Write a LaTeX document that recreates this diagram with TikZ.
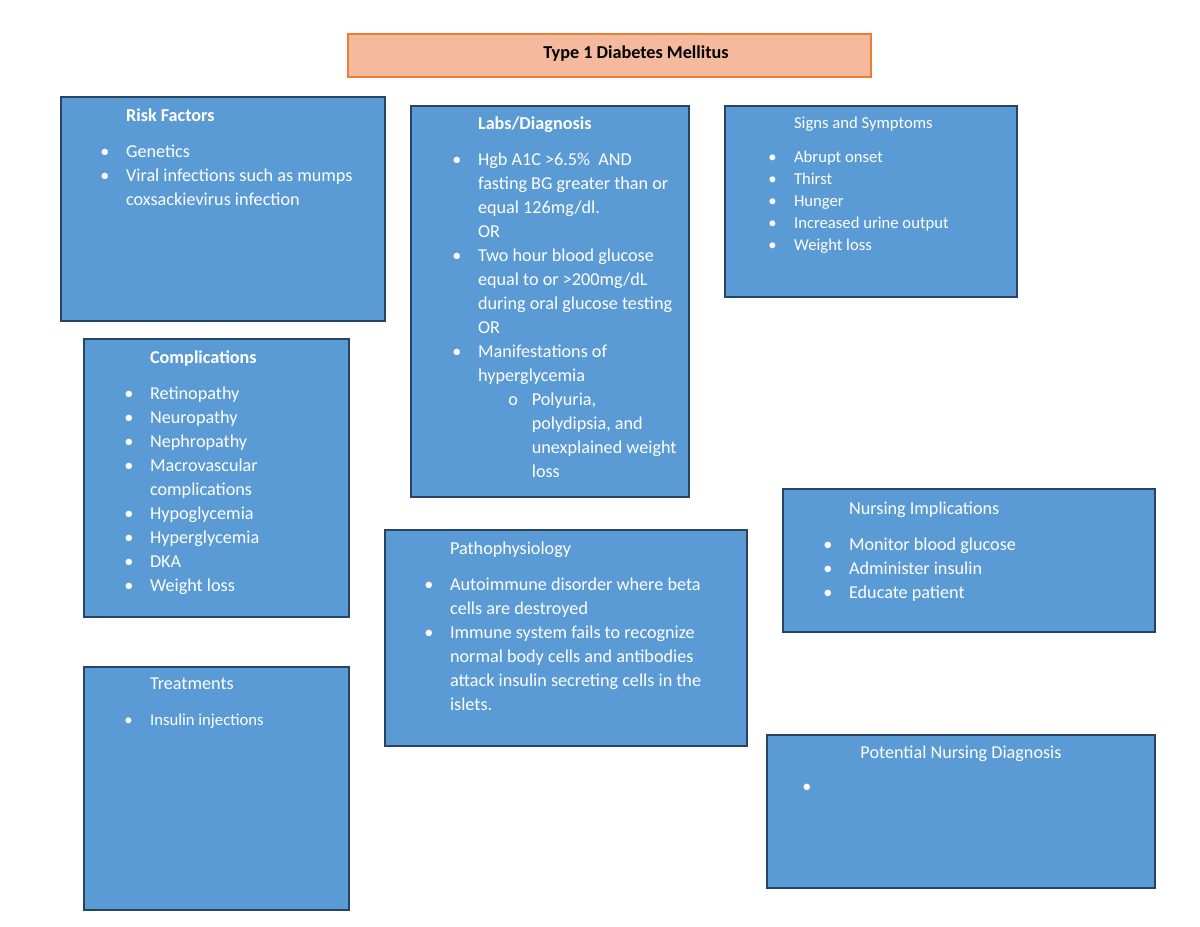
\documentclass[tikz,border=0pt]{standalone}
\usepackage{fontspec}
\setmainfont{Carlito}
\usetikzlibrary{fit}
\definecolor{boxblue}{RGB}{91,155,213}
\definecolor{boxline}{RGB}{40,68,98}
\definecolor{titlefill}{RGB}{245,185,158}
\definecolor{titleline}{RGB}{237,125,49}
\newlength\bulw
\setlength\bulw{17pt}
\newcommand\bul{\makebox[\bulw][l]{\textbullet}}
\newcommand\nobul{\hspace*{\bulw}}
\newcommand\subbul{\hspace*{\bulw}\hspace*{20pt}\makebox[15.5pt][l]{o}}
\newcommand\nosub{\hspace*{\bulw}\hspace*{35.5pt}}

\begin{document}
\begin{tikzpicture}[x=0.66pt,y=-0.66pt,
  every node/.style={inner sep=0pt},
  card/.style={draw=boxline,fill=boxblue,line width=1.3pt},
  list/.style={anchor=north west,align=left,text=white,font=\fontsize{12}{15.84}\selectfont},
  small/.style={anchor=north west,align=left,text=white,font=\fontsize{11}{14.5}\selectfont}]
  \useasboundingbox (0,0) rectangle (1200,927);

  % title bar
  \node[draw=titleline,fill=titlefill,line width=1pt,fit={(348,34) (871,77)}] (title) {};
  \node[font=\fontsize{12}{14}\selectfont\bfseries] (titletxt) at (636,54) {Type 1 Diabetes Mellitus};

  % boxes
  \node[card,fit={(61,97) (385,321)}] (risk) {};
  \node[card,fit={(411,106) (689,497)}] (labs) {};
  \node[card,fit={(725,106) (1017,297)}] (signs) {};
  \node[card,fit={(84,339) (349,617)}] (comp) {};
  \node[card,fit={(385,530) (747,746)}] (patho) {};
  \node[card,fit={(783,489) (1155,632)}] (nurs) {};
  \node[card,fit={(84,667) (349,910)}] (treat) {};
  \node[card,fit={(767,735) (1155,888)}] (potdx) {};

  % texts
  \node[list] (risktxt) at (100,108) {\nobul\textbf{Risk Factors}\\[7.9pt]
    \bul Genetics\\
    \bul Viral infections such as mumps\\
    \nobul coxsackievirus infection};
  \node[list] (labstxt) at (452,116) {\nobul\textbf{Labs/Diagnosis}\\[7.9pt]
    \bul Hgb A1C >6.5\%\ \ AND\\
    \nobul fasting BG greater than or\\
    \nobul equal 126mg/dl.\\
    \nobul OR\\
    \bul Two hour blood glucose\\
    \nobul equal to or >200mg/dL\\
    \nobul during oral glucose testing\\
    \nobul OR\\
    \bul Manifestations of\\
    \nobul hyperglycemia\\
    \subbul Polyuria,\\
    \nosub polydipsia, and\\
    \nosub unexplained weight\\
    \nosub loss};
  \node[small] (signstxt) at (768,117) {\nobul Signs and Symptoms\\[8pt]
    \bul Abrupt onset\\
    \bul Thirst\\
    \bul Hunger\\
    \bul Increased urine output\\
    \bul Weight loss};
  \node[list] (comptxt) at (124,350) {\nobul\textbf{Complications}\\[7.9pt]
    \bul Retinopathy\\
    \bul Neuropathy\\
    \bul Nephropathy\\
    \bul Macrovascular\\
    \nobul complications\\
    \bul Hypoglycemia\\
    \bul Hyperglycemia\\
    \bul DKA\\
    \bul Weight loss};
  \node[list] (pathotxt) at (424,542) {\nobul Pathophysiology\\[7.9pt]
    \bul Autoimmune disorder where beta\\
    \nobul cells are destroyed\\
    \bul Immune system fails to recognize\\
    \nobul normal body cells and antibodies\\
    \nobul attack insulin secreting cells in the\\
    \nobul islets.};
  \node[list] (nurstxt) at (823,502) {\nobul Nursing Implications\\[7.9pt]
    \bul Monitor blood glucose\\
    \bul Administer insulin\\
    \bul Educate patient};
  \node[list] (treattxt) at (124,678) {\nobul Treatments\\[7.9pt]
    {\fontsize{11}{14.5}\selectfont\bul Insulin injections}};
  \node[text=white,font=\fontsize{12}{14}\selectfont] (potdxtxt) at (961,754) {Potential Nursing Diagnosis};
  \node[text=white,font=\fontsize{12}{14}\selectfont] (potdxbul) at (807,788) {\textbullet};
\end{tikzpicture}
\end{document}
